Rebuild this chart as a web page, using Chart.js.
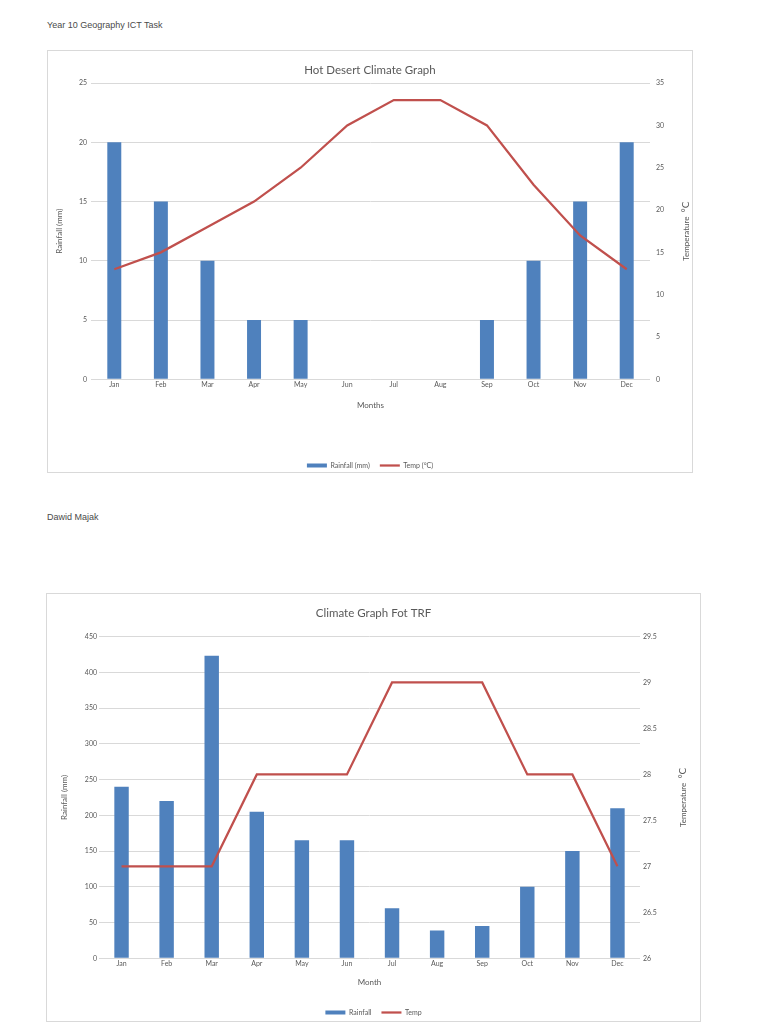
<!DOCTYPE html>
<html>
<head>
<meta charset="utf-8">
<title>Climate Graphs</title>
<script src="https://cdn.jsdelivr.net/npm/chart.js@4.4.1/dist/chart.umd.min.js"></script>
<style>
    body {
        margin: 0;
        background: #fff;
        width: 768px;
        height: 1024px;
        position: relative;
        font-family: "Liberation Sans", Arial, sans-serif;
    }
    .note {
        position: absolute;
        left: 47px;
        font-size: 9px;
        color: #4a4a4a;
        line-height: 10px;
    }
    .box {
        position: absolute;
        box-sizing: border-box;
        border: 1px solid #d9d9d9;
    }
    canvas {
        position: absolute;
    }
</style>
</head>
<body>
<div class="note" style="top: 20px;">Year 10 Geography ICT Task</div>
<div class="note" style="top: 512px;">Dawid Majak</div>

<div class="box" style="left: 47px; top: 50px; width: 646px; height: 423px;"></div>
<canvas id="desertChart" width="646" height="429" style="left: 47px; top: 50px;"></canvas>

<div class="box" style="left: 46px; top: 593px; width: 655px; height: 429px;"></div>
<canvas id="trfChart" width="655" height="433" style="left: 46px; top: 593px;"></canvas>

<script>
const months = ["Jan", "Feb", "Mar", "Apr", "May", "Jun", "Jul", "Aug", "Sep", "Oct", "Nov", "Dec"];

// hot desert
const desertRain = [20, 15, 10, 5, 5, 0, 0, 0, 5, 10, 15, 20];
const desertTemp = [13, 15, 18, 21, 25, 30, 33, 33, 30, 23, 17, 13];
const desertRainTicks = [0, 5, 10, 15, 20, 25];
const desertTempTicks = [0, 5, 10, 15, 20, 25, 30, 35];

// tropical rainforest
const trfRain = [240, 220, 423, 205, 165, 165, 70, 39, 45, 100, 150, 210];
const trfTemp = [27, 27, 27, 28, 28, 28, 29, 29, 29, 28, 28, 27];
const trfRainTicks = [0, 50, 100, 150, 200, 250, 300, 350, 400, 450];
const trfTempTicks = [26, 26.5, 27, 27.5, 28, 28.5, 29, 29.5];

const grey = "#595959";
const barBlue = "#4f81bd";
const lineRed = "#c0504d";
const fontFamily = "Lato, Carlito, Calibri, sans-serif";

Chart.defaults.font.family = fontFamily;
Chart.defaults.color = grey;

// right hand axis title reads bottom to top like the excel one, with a bigger °C
const rightTitle = {
    id: "rightTitle",
    afterDraw(chart, args, opts) {
        const ctx = chart.ctx;
        const area = chart.chartArea;
        ctx.save();
        ctx.translate(opts.x, (area.top + area.bottom) / 2);
        ctx.rotate(-Math.PI / 2);
        ctx.fillStyle = grey;
        ctx.textBaseline = "middle";
        ctx.textAlign = "left";
        ctx.font = "8px " + fontFamily;
        const w1 = ctx.measureText(opts.text + "  ").width;
        ctx.font = "10px " + fontFamily;
        const w2 = ctx.measureText(opts.unit).width;
        const start = -(w1 + w2) / 2;
        ctx.font = "8px " + fontFamily;
        ctx.fillText(opts.text, start, 0);
        ctx.font = "10px " + fontFamily;
        ctx.fillText(opts.unit, start + w1, -0.5);
        ctx.restore();
    },
};

function climateChart(id, s) {
    return new Chart(document.getElementById(id), {
        type: "bar",
        plugins: [rightTitle],
        data: {
            labels: months,
            datasets: [
                {
                    label: s.rainLabel,
                    data: s.rain,
                    backgroundColor: barBlue,
                    borderWidth: 0,
                    categoryPercentage: 1,
                    barPercentage: s.barPct,
                    pointStyle: "rect",
                    yAxisID: "y",
                    order: 1,
                },
                {
                    type: "line",
                    label: s.tempLabel,
                    data: s.temp,
                    borderColor: lineRed,
                    backgroundColor: lineRed,
                    borderWidth: 2.25,
                    pointRadius: 0,
                    pointStyle: "line",
                    tension: 0,
                    yAxisID: "y1",
                    order: 0,
                },
            ],
        },
        options: {
            responsive: false,
            animation: false,
            devicePixelRatio: 1,
            layout: { padding: 0 },
            plugins: {
                title: {
                    display: true,
                    text: s.title,
                    color: grey,
                    font: { size: 11.5, weight: "normal" },
                    padding: { top: s.titleTop, bottom: s.titleBottom },
                },
                legend: {
                    position: "bottom",
                    labels: {
                        sort: (a, b) => a.datasetIndex - b.datasetIndex,
                        usePointStyle: true,
                        pointStyleWidth: 20,
                        boxHeight: 4,
                        padding: 10,
                        color: grey,
                        font: { size: 7 },
                    },
                },
                tooltip: { enabled: false },
                rightTitle: { text: "Temperature", unit: "°C", x: s.rightTitleX },
            },
            scales: {
                x: {
                    grid: { display: false, drawTicks: false },
                    border: { display: false },
                    ticks: { padding: s.xPad, font: { size: 7 }, color: grey },
                    title: {
                        display: true,
                        text: s.xTitle,
                        color: grey,
                        font: { size: 8 },
                        padding: { top: 0, bottom: s.xTitleBottom },
                    },
                    afterFit: (scale) => { scale.height = s.xHeight; },
                },
                y: {
                    position: "left",
                    min: s.rainTicks[0],
                    max: s.rainTicks[s.rainTicks.length - 1],
                    grid: { color: "#d9d9d9", drawTicks: false },
                    border: { display: false },
                    ticks: {
                        stepSize: s.rainTicks[1] - s.rainTicks[0],
                        padding: s.leftPad,
                        font: { size: 7 },
                        color: grey,
                    },
                    title: {
                        display: true,
                        text: "Rainfall (mm)",
                        color: grey,
                        font: { size: 8 },
                        padding: { top: s.leftTitlePad, bottom: 0 },
                    },
                    afterFit: (scale) => { scale.width = s.leftWidth; },
                },
                y1: {
                    position: "right",
                    min: s.tempTicks[0],
                    max: s.tempTicks[s.tempTicks.length - 1],
                    grid: { display: false, drawTicks: false },
                    border: { display: false },
                    ticks: {
                        stepSize: s.tempTicks[1] - s.tempTicks[0],
                        padding: s.rightPad,
                        font: { size: 7 },
                        color: grey,
                        callback: (value) => String(value),
                    },
                    afterFit: (scale) => { scale.width = s.rightWidth; },
                },
            },
        },
    });
}

climateChart("desertChart", {
    title: "Hot Desert Climate Graph",
    rainLabel: "Rainfall (mm)",
    tempLabel: "Temp (°C)",
    xTitle: "Months",
    rain: desertRain,
    temp: desertTemp,
    rainTicks: desertRainTicks,
    tempTicks: desertTempTicks,
    barPct: 0.3,
    titleTop: 13.5,
    titleBottom: 5.8,
    xHeight: 72.7,
    xPad: 1,
    xTitleBottom: 42.2,
    leftWidth: 44,
    leftPad: 4,
    leftTitlePad: 7.2,
    rightWidth: 43,
    rightPad: 6,
    rightTitleX: 639,
});

climateChart("trfChart", {
    title: "Climate Graph Fot TRF",
    rainLabel: "Rainfall",
    tempLabel: "Temp",
    xTitle: "Month",
    rain: trfRain,
    temp: trfTemp,
    rainTicks: trfRainTicks,
    tempTicks: trfTempTicks,
    barPct: 0.32,
    titleTop: 13.4,
    titleBottom: 16.3,
    xHeight: 40.7,
    xPad: 1.7,
    xTitleBottom: 12.2,
    leftWidth: 53,
    leftPad: 2,
    leftTitlePad: 13.7,
    rightWidth: 61,
    rightPad: 3,
    rightTitleX: 637,
});
</script>
</body>
</html>
